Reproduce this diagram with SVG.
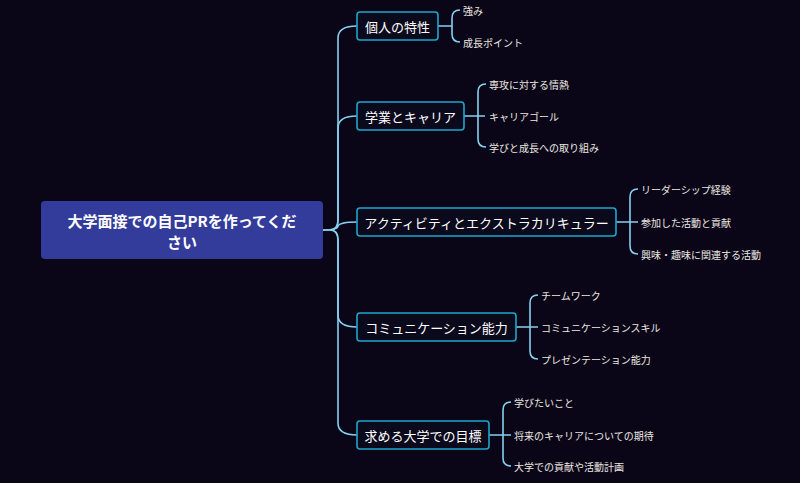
<svg xmlns="http://www.w3.org/2000/svg" width="800" height="483" viewBox="0 0 800 483">
<style>
.c{fill:none;stroke:#86d0ee;stroke-width:1.6}
.b rect{fill:#0b0a1c;stroke:#1ea6cc;stroke-width:1.6}
.b text{fill:#ffffff;font:13px "Noto Sans CJK JP","Noto Sans",sans-serif;dominant-baseline:central;text-anchor:middle}
.l text{fill:#ece8e0;font:10px "Noto Sans CJK JP","Noto Sans",sans-serif;dominant-baseline:central}
.r text{fill:#fff;font:bold 15px "Noto Sans CJK JP","Noto Sans",sans-serif;text-anchor:middle;dominant-baseline:central}
</style>
<rect width="800" height="483" fill="#0a0618"/>
<g id="connectors">
<path class="c" d="M323,230 H330 Q338,230 338,220 V38 Q338,26 357,26"/>
<path class="c" d="M330,230 Q338,230 338,220 V128 Q338,116 357,116"/>
<path class="c" d="M323,230 Q338,230 338,226 Q340,222 357,222"/>
<path class="c" d="M330,230 Q338,230 338,240 V315 Q338,327 357,327"/>
<path class="c" d="M330,230 Q338,230 338,240 V423 Q338,435 357,435"/>
<path class="c" d="M438,26 H452 M452,26 V18 Q452,10 460,10 M452,26 V34 Q452,42 460,42"/>
<path class="c" d="M464,116 H485 M478,116 V92 Q478,84 486,84 M478,116 V139 Q478,147 486,147"/>
<path class="c" d="M616,222 H638 M630,222 V197 Q630,189 638,189 M630,222 V246 Q630,254 638,254"/>
<path class="c" d="M516,327 H538 M530,327 V303 Q530,295 538,295 M530,327 V351 Q530,359 538,359"/>
<path class="c" d="M489,435 H511 M503,435 V410 Q503,402 511,402 M503,435 V458 Q503,466 511,466"/>
</g>
<g id="root" class="r"><rect x="41" y="201" width="282" height="58" rx="4" fill="#343c9b"/><text x="182" y="220">大学面接での自己PRを作ってくだ</text><text x="182" y="241">さい</text></g>
<g id="n1" class="b"><rect x="357" y="12" width="81" height="28" rx="3"/><text x="397.5" y="26">個人の特性</text></g>
<g id="n2" class="b"><rect x="357" y="102" width="107" height="28" rx="3"/><text x="410.5" y="116">学業とキャリア</text></g>
<g id="n3" class="b"><rect x="357" y="208" width="259" height="28" rx="3"/><text x="486.5" y="222">アクティビティとエクストラカリキュラー</text></g>
<g id="n4" class="b"><rect x="357" y="313" width="159" height="28" rx="3"/><text x="436.5" y="327">コミュニケーション能力</text></g>
<g id="n5" class="b"><rect x="357" y="421" width="132" height="28" rx="3"/><text x="423" y="435">求める大学での目標</text></g>
<g id="leaves" class="l">
<text x="463" y="10">強み</text><text x="463" y="42">成長ポイント</text>
<text x="489" y="84">専攻に対する情熱</text><text x="489" y="116">キャリアゴール</text><text x="489" y="147">学びと成長への取り組み</text>
<text x="641" y="189">リーダーシップ経験</text><text x="641" y="222">参加した活動と貢献</text><text x="641" y="254">興味・趣味に関連する活動</text>
<text x="541" y="295">チームワーク</text><text x="541" y="327">コミュニケーションスキル</text><text x="541" y="359">プレゼンテーション能力</text>
<text x="514" y="402">学びたいこと</text><text x="514" y="435">将来のキャリアについての期待</text><text x="514" y="466">大学での貢献や活動計画</text>
</g>
</svg>
